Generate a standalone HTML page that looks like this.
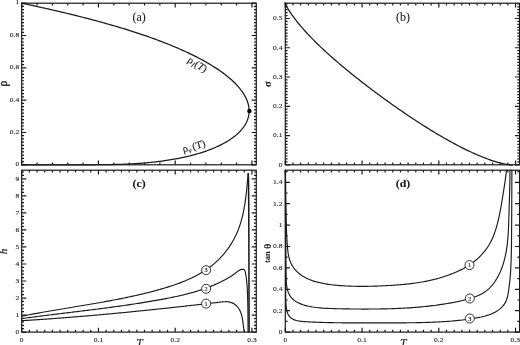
<!DOCTYPE html>
<html><head><meta charset="utf-8"><title>figure</title>
<style>
html,body{margin:0;padding:0;background:#fff;}
body{width:520px;height:345px;overflow:hidden;}
svg{display:block;filter:blur(0.45px);font-family:"Liberation Serif",serif;fill:#1a1a1a;}
</style></head><body>
<svg width="520" height="345" viewBox="0 0 520 345">
<rect width="520" height="345" fill="#fff"/>
<rect x="21.70" y="3.20" width="234.60" height="161.60" fill="none" stroke="#1a1a1a" stroke-width="1.20"/>
<path d="M21.70 164.80v-4.30M21.70 3.20v4.30M37.05 164.80v-2.30M37.05 3.20v2.30M52.40 164.80v-2.30M52.40 3.20v2.30M67.75 164.80v-2.30M67.75 3.20v2.30M83.10 164.80v-2.30M83.10 3.20v2.30M98.45 164.80v-4.30M98.45 3.20v4.30M113.80 164.80v-2.30M113.80 3.20v2.30M129.15 164.80v-2.30M129.15 3.20v2.30M144.50 164.80v-2.30M144.50 3.20v2.30M159.85 164.80v-2.30M159.85 3.20v2.30M175.20 164.80v-4.30M175.20 3.20v4.30M190.55 164.80v-2.30M190.55 3.20v2.30M205.90 164.80v-2.30M205.90 3.20v2.30M221.25 164.80v-2.30M221.25 3.20v2.30M236.60 164.80v-2.30M236.60 3.20v2.30M251.95 164.80v-4.30M251.95 3.20v4.30" stroke="#1a1a1a" stroke-width="1.20" fill="none"/>
<path d="M21.70 164.80h4.60M256.30 164.80h-4.60M21.70 161.57h2.30M256.30 161.57h-2.30M21.70 158.34h2.30M256.30 158.34h-2.30M21.70 155.10h2.30M256.30 155.10h-2.30M21.70 151.87h2.30M256.30 151.87h-2.30M21.70 148.64h2.30M256.30 148.64h-2.30M21.70 145.41h2.30M256.30 145.41h-2.30M21.70 142.18h2.30M256.30 142.18h-2.30M21.70 138.94h2.30M256.30 138.94h-2.30M21.70 135.71h2.30M256.30 135.71h-2.30M21.70 132.48h4.60M256.30 132.48h-4.60M21.70 129.25h2.30M256.30 129.25h-2.30M21.70 126.02h2.30M256.30 126.02h-2.30M21.70 122.78h2.30M256.30 122.78h-2.30M21.70 119.55h2.30M256.30 119.55h-2.30M21.70 116.32h2.30M256.30 116.32h-2.30M21.70 113.09h2.30M256.30 113.09h-2.30M21.70 109.86h2.30M256.30 109.86h-2.30M21.70 106.62h2.30M256.30 106.62h-2.30M21.70 103.39h2.30M256.30 103.39h-2.30M21.70 100.16h4.60M256.30 100.16h-4.60M21.70 96.93h2.30M256.30 96.93h-2.30M21.70 93.70h2.30M256.30 93.70h-2.30M21.70 90.46h2.30M256.30 90.46h-2.30M21.70 87.23h2.30M256.30 87.23h-2.30M21.70 84.00h2.30M256.30 84.00h-2.30M21.70 80.77h2.30M256.30 80.77h-2.30M21.70 77.54h2.30M256.30 77.54h-2.30M21.70 74.30h2.30M256.30 74.30h-2.30M21.70 71.07h2.30M256.30 71.07h-2.30M21.70 67.84h4.60M256.30 67.84h-4.60M21.70 64.61h2.30M256.30 64.61h-2.30M21.70 61.38h2.30M256.30 61.38h-2.30M21.70 58.14h2.30M256.30 58.14h-2.30M21.70 54.91h2.30M256.30 54.91h-2.30M21.70 51.68h2.30M256.30 51.68h-2.30M21.70 48.45h2.30M256.30 48.45h-2.30M21.70 45.22h2.30M256.30 45.22h-2.30M21.70 41.98h2.30M256.30 41.98h-2.30M21.70 38.75h2.30M256.30 38.75h-2.30M21.70 35.52h4.60M256.30 35.52h-4.60M21.70 32.29h2.30M256.30 32.29h-2.30M21.70 29.06h2.30M256.30 29.06h-2.30M21.70 25.82h2.30M256.30 25.82h-2.30M21.70 22.59h2.30M256.30 22.59h-2.30M21.70 19.36h2.30M256.30 19.36h-2.30M21.70 16.13h2.30M256.30 16.13h-2.30M21.70 12.90h2.30M256.30 12.90h-2.30M21.70 9.66h2.30M256.30 9.66h-2.30M21.70 6.43h2.30M256.30 6.43h-2.30M21.70 3.20h4.60M256.30 3.20h-4.60" stroke="#1a1a1a" stroke-width="1.20" fill="none"/>
<text transform="translate(19.20,166.25) scale(1.060,1)" font-size="7.10" text-anchor="end" stroke="#1a1a1a" stroke-width="0.10" >0</text>
<text transform="translate(19.20,133.93) scale(1.060,1)" font-size="7.10" text-anchor="end" stroke="#1a1a1a" stroke-width="0.10" >0.2</text>
<text transform="translate(19.20,101.61) scale(1.060,1)" font-size="7.10" text-anchor="end" stroke="#1a1a1a" stroke-width="0.10" >0.4</text>
<text transform="translate(19.20,69.29) scale(1.060,1)" font-size="7.10" text-anchor="end" stroke="#1a1a1a" stroke-width="0.10" >0.6</text>
<text transform="translate(19.20,36.97) scale(1.060,1)" font-size="7.10" text-anchor="end" stroke="#1a1a1a" stroke-width="0.10" >0.8</text>
<text transform="translate(19.20,4.35) scale(1.060,1)" font-size="7.10" text-anchor="end" stroke="#1a1a1a" stroke-width="0.10" >1</text>
<path d="M21.70 3.20 L22.08 3.28 L22.47 3.36 L23.23 3.52 L24.00 3.69 L25.15 3.93 L26.30 4.18 L27.84 4.50 L29.38 4.83 L30.91 5.16 L32.39 5.48 L33.91 5.81 L35.44 6.15 L36.96 6.48 L38.49 6.82 L40.01 7.15 L41.53 7.49 L43.06 7.83 L44.58 8.17 L46.11 8.51 L47.63 8.86 L49.15 9.20 L50.68 9.55 L52.20 9.90 L53.73 10.25 L55.25 10.60 L56.77 10.96 L58.30 11.31 L59.82 11.67 L61.34 12.03 L62.87 12.39 L64.39 12.75 L65.92 13.12 L67.44 13.49 L68.96 13.85 L70.49 14.22 L72.01 14.60 L73.54 14.97 L75.06 15.35 L76.58 15.73 L78.11 16.11 L79.63 16.49 L81.16 16.88 L82.68 17.26 L84.20 17.65 L85.73 18.05 L87.25 18.44 L88.78 18.84 L90.30 19.23 L91.82 19.64 L93.35 20.04 L94.87 20.45 L96.40 20.86 L97.92 21.27 L99.44 21.68 L100.97 22.10 L102.49 22.52 L104.02 22.94 L105.54 23.37 L107.06 23.80 L108.59 24.23 L110.11 24.66 L111.64 25.10 L113.16 25.54 L114.68 25.98 L116.21 26.43 L117.73 26.88 L119.26 27.34 L120.78 27.79 L122.30 28.25 L123.83 28.72 L125.35 29.19 L126.88 29.66 L128.40 30.13 L129.92 30.61 L131.45 31.10 L132.97 31.58 L134.49 32.07 L136.02 32.57 L137.54 33.07 L139.07 33.57 L140.59 34.08 L142.11 34.59 L143.64 35.11 L145.16 35.63 L146.69 36.16 L148.21 36.69 L149.73 37.23 L151.26 37.77 L152.78 38.32 L154.31 38.87 L155.83 39.43 L157.35 39.99 L158.88 40.56 L160.40 41.13 L161.93 41.71 L163.45 42.30 L164.97 42.89 L166.50 43.49 L168.02 44.10 L169.55 44.71 L171.07 45.33 L172.59 45.96 L174.12 46.59 L175.64 47.23 L177.17 47.88 L178.69 48.54 L180.21 49.21 L181.74 49.88 L183.26 50.56 L184.79 51.25 L186.31 51.95 L187.83 52.67 L189.36 53.39 L190.88 54.12 L192.41 54.86 L193.93 55.61 L195.45 56.38 L196.98 57.15 L198.50 57.94 L200.03 58.74 L201.55 59.56 L203.07 60.39 L204.60 61.23 L206.12 62.09 L207.64 62.97 L209.17 63.86 L210.69 64.77 L212.22 65.70 L213.74 66.66 L215.26 67.63 L216.79 68.62 L218.31 69.64 L219.84 70.69 L221.36 71.77 L222.88 72.87 L224.41 74.01 L225.93 75.19 L227.46 76.40 L228.98 77.66 L230.50 78.97 L232.03 80.33 L233.55 81.75 L235.08 83.25 L236.60 84.82 L236.76 84.99 L236.92 85.16 L237.07 85.33 L237.23 85.51 L237.39 85.68 L237.55 85.85 L237.71 86.03 L237.87 86.21 L238.02 86.38 L238.18 86.56 L238.34 86.75 L238.50 86.93 L238.66 87.11 L238.82 87.30 L238.97 87.48 L239.13 87.67 L239.29 87.86 L239.45 88.05 L239.61 88.24 L239.77 88.43 L239.92 88.63 L240.08 88.83 L240.24 89.03 L240.40 89.23 L240.56 89.43 L240.72 89.63 L240.87 89.84 L241.03 90.05 L241.19 90.26 L241.35 90.47 L241.51 90.68 L241.67 90.90 L241.82 91.12 L241.98 91.34 L242.14 91.56 L242.30 91.79 L242.46 92.01 L242.62 92.25 L242.77 92.48 L242.93 92.72 L243.09 92.96 L243.25 93.20 L243.41 93.44 L243.57 93.69 L243.72 93.95 L243.88 94.20 L244.04 94.46 L244.20 94.73 L244.36 94.99 L244.52 95.27 L244.67 95.54 L244.83 95.83 L244.99 96.11 L245.15 96.41 L245.31 96.70 L245.47 97.01 L245.62 97.32 L245.78 97.64 L245.94 97.96 L246.10 98.30 L246.26 98.64 L246.42 98.99 L246.57 99.35 L246.73 99.73 L246.89 100.11 L247.05 100.51 L247.21 100.93 L247.37 101.36 L247.52 101.81 L247.68 102.28 L247.84 102.78 L248.00 103.31 L248.16 103.89 L248.32 104.50 L248.47 105.19 L248.63 105.96 L248.79 106.88 L248.95 108.07 L249.11 110.74 L249.11 110.93 L249.11 110.93 L249.11 111.13 L248.95 113.77 L248.79 114.93 L248.63 115.81 L248.47 116.56 L248.32 117.21 L248.16 117.80 L248.00 118.34 L247.84 118.84 L247.68 119.31 L247.52 119.76 L247.37 120.18 L247.21 120.58 L247.05 120.96 L246.89 121.33 L246.73 121.69 L246.57 122.03 L246.42 122.36 L246.26 122.68 L246.10 123.00 L245.94 123.30 L245.78 123.59 L245.62 123.88 L245.47 124.16 L245.31 124.44 L245.15 124.71 L244.99 124.97 L244.83 125.22 L244.67 125.48 L244.52 125.72 L244.36 125.97 L244.20 126.20 L244.04 126.44 L243.88 126.67 L243.72 126.89 L243.57 127.11 L243.41 127.33 L243.25 127.55 L243.09 127.76 L242.93 127.97 L242.77 128.18 L242.62 128.38 L242.46 128.58 L242.30 128.78 L242.14 128.97 L241.98 129.16 L241.82 129.35 L241.67 129.54 L241.51 129.73 L241.35 129.91 L241.19 130.09 L241.03 130.27 L240.87 130.45 L240.72 130.62 L240.56 130.80 L240.40 130.97 L240.24 131.14 L240.08 131.30 L239.92 131.47 L239.77 131.63 L239.61 131.80 L239.45 131.96 L239.29 132.12 L239.13 132.28 L238.97 132.43 L238.82 132.59 L238.66 132.74 L238.50 132.89 L238.34 133.05 L238.18 133.20 L238.02 133.34 L237.87 133.49 L237.71 133.64 L237.55 133.78 L237.39 133.93 L237.23 134.07 L237.07 134.21 L236.92 134.35 L236.76 134.49 L236.60 134.63 L235.08 135.90 L233.55 137.09 L232.03 138.21 L230.50 139.27 L228.98 140.27 L227.46 141.22 L225.93 142.12 L224.41 142.98 L222.88 143.81 L221.36 144.60 L219.84 145.36 L218.31 146.09 L216.79 146.79 L215.26 147.46 L213.74 148.11 L212.22 148.74 L210.69 149.34 L209.17 149.93 L207.64 150.49 L206.12 151.04 L204.60 151.56 L203.07 152.07 L201.55 152.57 L200.03 153.04 L198.50 153.51 L196.98 153.95 L195.45 154.39 L193.93 154.81 L192.41 155.22 L190.88 155.61 L189.36 155.99 L187.83 156.36 L186.31 156.72 L184.79 157.07 L183.26 157.40 L181.74 157.73 L180.21 158.04 L178.69 158.35 L177.17 158.64 L175.64 158.93 L174.12 159.20 L172.59 159.47 L171.07 159.73 L169.55 159.98 L168.02 160.22 L166.50 160.45 L164.97 160.67 L163.45 160.89 L161.93 161.10 L160.40 161.30 L158.88 161.49 L157.35 161.68 L155.83 161.85 L154.31 162.03 L152.78 162.19 L151.26 162.35 L149.73 162.50 L148.21 162.64 L146.69 162.78 L145.16 162.92 L143.64 163.04 L142.11 163.16 L140.59 163.28 L139.07 163.39 L137.54 163.49 L136.02 163.59 L134.49 163.68 L132.97 163.77 L131.45 163.86 L129.92 163.93 L128.40 164.01 L126.88 164.08 L125.35 164.14 L123.83 164.20 L122.30 164.26 L120.78 164.31 L119.26 164.36 L117.73 164.41 L116.21 164.45 L114.68 164.49 L113.16 164.52 L111.64 164.56 L110.11 164.59 L108.59 164.61 L107.06 164.64 L105.54 164.66 L104.02 164.68 L102.49 164.70 L100.97 164.71 L99.44 164.73 L97.92 164.74 L96.40 164.75 L94.87 164.76 L93.35 164.77 L91.82 164.77 L90.30 164.78 L88.78 164.78 L87.25 164.79 L85.73 164.79 L84.20 164.79 L82.68 164.79 L81.16 164.80 L79.63 164.80 L78.11 164.80 L76.58 164.80 L75.06 164.80 L73.54 164.80 L72.01 164.80 L70.49 164.80 L68.96 164.80 L67.44 164.80 L65.92 164.80 L64.39 164.80 L62.87 164.80 L61.34 164.80 L59.82 164.80 L58.30 164.80 L56.77 164.80 L55.25 164.80 L53.73 164.80 L52.20 164.80 L50.68 164.80 L49.15 164.80 L47.63 164.80 L46.11 164.80 L44.58 164.80 L43.06 164.80 L41.53 164.80 L40.01 164.80 L38.49 164.80 L36.96 164.80 L35.44 164.80 L33.91 164.80 L32.39 164.80 L30.91 164.80 L29.38 164.80 L27.84 164.80 L26.30 164.80 L25.15 164.80 L24.00 164.80 L23.23 164.80 L22.47 164.80 L22.08 164.80 L21.70 164.80" fill="none" stroke="#1a1a1a" stroke-width="1.25" stroke-linejoin="round" stroke-linecap="round" />
<circle cx="249.41" cy="110.93" r="2.2" fill="#000"/>
<text transform="translate(139.10,20.60) scale(1.040,1)" font-size="11.50" text-anchor="middle" stroke="#1a1a1a" stroke-width="0.08" >(a)</text>
<text font-size="10.3" stroke="#1a1a1a" stroke-width="0.15" transform="translate(187,61.5) rotate(33)">ρ<tspan font-size="7" dy="2" dx="0.6" font-style="italic">l</tspan><tspan dy="-2" dx="0.5">(</tspan><tspan font-style="italic">T</tspan>)</text>
<text font-size="10.3" stroke="#1a1a1a" stroke-width="0.15" transform="translate(183.6,152.6) rotate(-15.5)">ρ<tspan font-size="7" dy="2">v</tspan><tspan dy="-2" dx="1.5">(T)</tspan></text>
<text font-size="11.6" stroke="#1a1a1a" stroke-width="0.35" transform="translate(6.7,83.5) rotate(-90)" text-anchor="middle">ρ</text>
<rect x="285.30" y="3.20" width="234.30" height="161.60" fill="none" stroke="#1a1a1a" stroke-width="1.20"/>
<path d="M285.30 164.80v-4.30M285.30 3.20v4.30M292.98 164.80v-2.30M292.98 3.20v2.30M300.65 164.80v-2.30M300.65 3.20v2.30M308.32 164.80v-2.30M308.32 3.20v2.30M316.00 164.80v-2.30M316.00 3.20v2.30M323.68 164.80v-2.30M323.68 3.20v2.30M331.35 164.80v-2.30M331.35 3.20v2.30M339.03 164.80v-2.30M339.03 3.20v2.30M346.70 164.80v-2.30M346.70 3.20v2.30M354.38 164.80v-2.30M354.38 3.20v2.30M362.05 164.80v-4.30M362.05 3.20v4.30M369.73 164.80v-2.30M369.73 3.20v2.30M377.40 164.80v-2.30M377.40 3.20v2.30M385.08 164.80v-2.30M385.08 3.20v2.30M392.75 164.80v-2.30M392.75 3.20v2.30M400.43 164.80v-2.30M400.43 3.20v2.30M408.10 164.80v-2.30M408.10 3.20v2.30M415.78 164.80v-2.30M415.78 3.20v2.30M423.45 164.80v-2.30M423.45 3.20v2.30M431.12 164.80v-2.30M431.12 3.20v2.30M438.80 164.80v-4.30M438.80 3.20v4.30M446.48 164.80v-2.30M446.48 3.20v2.30M454.15 164.80v-2.30M454.15 3.20v2.30M461.83 164.80v-2.30M461.83 3.20v2.30M469.50 164.80v-2.30M469.50 3.20v2.30M477.18 164.80v-2.30M477.18 3.20v2.30M484.85 164.80v-2.30M484.85 3.20v2.30M492.53 164.80v-2.30M492.53 3.20v2.30M500.20 164.80v-2.30M500.20 3.20v2.30M507.88 164.80v-2.30M507.88 3.20v2.30M515.55 164.80v-4.30M515.55 3.20v4.30" stroke="#1a1a1a" stroke-width="1.20" fill="none"/>
<path d="M285.30 164.80h4.60M519.60 164.80h-4.60M285.30 161.87h2.30M519.60 161.87h-2.30M285.30 158.95h2.30M519.60 158.95h-2.30M285.30 156.02h2.30M519.60 156.02h-2.30M285.30 153.10h2.30M519.60 153.10h-2.30M285.30 150.17h2.30M519.60 150.17h-2.30M285.30 147.24h2.30M519.60 147.24h-2.30M285.30 144.32h2.30M519.60 144.32h-2.30M285.30 141.39h2.30M519.60 141.39h-2.30M285.30 138.47h2.30M519.60 138.47h-2.30M285.30 135.54h4.60M519.60 135.54h-4.60M285.30 132.61h2.30M519.60 132.61h-2.30M285.30 129.69h2.30M519.60 129.69h-2.30M285.30 126.76h2.30M519.60 126.76h-2.30M285.30 123.84h2.30M519.60 123.84h-2.30M285.30 120.91h2.30M519.60 120.91h-2.30M285.30 117.98h2.30M519.60 117.98h-2.30M285.30 115.06h2.30M519.60 115.06h-2.30M285.30 112.13h2.30M519.60 112.13h-2.30M285.30 109.21h2.30M519.60 109.21h-2.30M285.30 106.28h4.60M519.60 106.28h-4.60M285.30 103.35h2.30M519.60 103.35h-2.30M285.30 100.43h2.30M519.60 100.43h-2.30M285.30 97.50h2.30M519.60 97.50h-2.30M285.30 94.58h2.30M519.60 94.58h-2.30M285.30 91.65h2.30M519.60 91.65h-2.30M285.30 88.72h2.30M519.60 88.72h-2.30M285.30 85.80h2.30M519.60 85.80h-2.30M285.30 82.87h2.30M519.60 82.87h-2.30M285.30 79.95h2.30M519.60 79.95h-2.30M285.30 77.02h4.60M519.60 77.02h-4.60M285.30 74.09h2.30M519.60 74.09h-2.30M285.30 71.17h2.30M519.60 71.17h-2.30M285.30 68.24h2.30M519.60 68.24h-2.30M285.30 65.32h2.30M519.60 65.32h-2.30M285.30 62.39h2.30M519.60 62.39h-2.30M285.30 59.46h2.30M519.60 59.46h-2.30M285.30 56.54h2.30M519.60 56.54h-2.30M285.30 53.61h2.30M519.60 53.61h-2.30M285.30 50.69h2.30M519.60 50.69h-2.30M285.30 47.76h4.60M519.60 47.76h-4.60M285.30 44.83h2.30M519.60 44.83h-2.30M285.30 41.91h2.30M519.60 41.91h-2.30M285.30 38.98h2.30M519.60 38.98h-2.30M285.30 36.06h2.30M519.60 36.06h-2.30M285.30 33.13h2.30M519.60 33.13h-2.30M285.30 30.20h2.30M519.60 30.20h-2.30M285.30 27.28h2.30M519.60 27.28h-2.30M285.30 24.35h2.30M519.60 24.35h-2.30M285.30 21.43h2.30M519.60 21.43h-2.30M285.30 18.50h4.60M519.60 18.50h-4.60M285.30 15.57h2.30M519.60 15.57h-2.30M285.30 12.65h2.30M519.60 12.65h-2.30M285.30 9.72h2.30M519.60 9.72h-2.30M285.30 6.80h2.30M519.60 6.80h-2.30M285.30 3.87h2.30M519.60 3.87h-2.30" stroke="#1a1a1a" stroke-width="1.20" fill="none"/>
<text transform="translate(282.50,166.60) scale(1.060,1)" font-size="7.10" text-anchor="end" stroke="#1a1a1a" stroke-width="0.10" >0</text>
<text transform="translate(282.50,137.34) scale(1.060,1)" font-size="7.10" text-anchor="end" stroke="#1a1a1a" stroke-width="0.10" >0.1</text>
<text transform="translate(282.50,108.08) scale(1.060,1)" font-size="7.10" text-anchor="end" stroke="#1a1a1a" stroke-width="0.10" >0.2</text>
<text transform="translate(282.50,78.82) scale(1.060,1)" font-size="7.10" text-anchor="end" stroke="#1a1a1a" stroke-width="0.10" >0.3</text>
<text transform="translate(282.50,49.56) scale(1.060,1)" font-size="7.10" text-anchor="end" stroke="#1a1a1a" stroke-width="0.10" >0.4</text>
<text transform="translate(282.50,20.30) scale(1.060,1)" font-size="7.10" text-anchor="end" stroke="#1a1a1a" stroke-width="0.10" >0.5</text>
<path d="M285.00 2.60 L285.38 3.70 L285.77 4.58 L286.54 6.15 L287.30 7.58 L288.45 9.56 L289.61 11.40 L291.14 13.71 L292.68 15.90 L294.21 17.99 L295.69 19.93 L297.21 21.86 L298.74 23.74 L300.26 25.56 L301.79 27.35 L303.31 29.09 L304.83 30.79 L306.36 32.47 L307.88 34.11 L309.41 35.73 L310.93 37.32 L312.45 38.88 L313.98 40.43 L315.50 41.95 L317.03 43.45 L318.55 44.93 L320.07 46.40 L321.60 47.85 L323.12 49.28 L324.64 50.70 L326.17 52.10 L327.69 53.49 L329.22 54.87 L330.74 56.23 L332.26 57.59 L333.79 58.93 L335.31 60.26 L336.84 61.57 L338.36 62.88 L339.88 64.18 L341.41 65.47 L342.93 66.75 L344.46 68.02 L345.98 69.28 L347.50 70.54 L349.03 71.78 L350.55 73.02 L352.08 74.25 L353.60 75.48 L355.12 76.69 L356.65 77.90 L358.17 79.11 L359.70 80.30 L361.22 81.49 L362.74 82.68 L364.27 83.86 L365.79 85.03 L367.32 86.19 L368.84 87.36 L370.36 88.51 L371.89 89.66 L373.41 90.81 L374.94 91.94 L376.46 93.08 L377.98 94.21 L379.51 95.33 L381.03 96.45 L382.56 97.56 L384.08 98.67 L385.60 99.78 L387.13 100.87 L388.65 101.97 L390.18 103.06 L391.70 104.14 L393.22 105.22 L394.75 106.29 L396.27 107.36 L397.79 108.42 L399.32 109.48 L400.84 110.53 L402.37 111.58 L403.89 112.63 L405.41 113.66 L406.94 114.70 L408.46 115.72 L409.99 116.74 L411.51 117.76 L413.03 118.77 L414.56 119.78 L416.08 120.77 L417.61 121.77 L419.13 122.75 L420.65 123.74 L422.18 124.71 L423.70 125.68 L425.23 126.64 L426.75 127.60 L428.27 128.55 L429.80 129.50 L431.32 130.43 L432.85 131.36 L434.37 132.29 L435.89 133.20 L437.42 134.11 L438.94 135.02 L440.47 135.91 L441.99 136.80 L443.51 137.68 L445.04 138.55 L446.56 139.41 L448.09 140.27 L449.61 141.12 L451.13 141.96 L452.66 142.79 L454.18 143.61 L455.71 144.42 L457.23 145.23 L458.75 146.02 L460.28 146.81 L461.80 147.58 L463.33 148.35 L464.85 149.10 L466.37 149.85 L467.90 150.58 L469.42 151.30 L470.94 152.01 L472.47 152.71 L473.99 153.40 L475.52 154.08 L477.04 154.74 L478.56 155.39 L480.09 156.03 L481.61 156.65 L483.14 157.26 L484.66 157.86 L486.18 158.44 L487.71 159.01 L489.23 159.55 L490.76 160.09 L492.28 160.60 L493.80 161.10 L495.33 161.58 L496.85 162.03 L498.38 162.47 L499.90 162.88 L500.06 162.93 L500.22 162.97 L500.37 163.01 L500.53 163.05 L500.69 163.09 L500.85 163.13 L501.01 163.17 L501.17 163.21 L501.32 163.25 L501.48 163.29 L501.64 163.33 L501.80 163.37 L501.96 163.41 L502.12 163.44 L502.27 163.48 L502.43 163.52 L502.59 163.56 L502.75 163.59 L502.91 163.63 L503.07 163.67 L503.22 163.70 L503.38 163.74 L503.54 163.77 L503.70 163.81 L503.86 163.84 L504.02 163.88 L504.17 163.91 L504.33 163.95 L504.49 163.98 L504.65 164.01 L504.81 164.05 L504.97 164.08 L505.12 164.11 L505.28 164.14 L505.44 164.17 L505.60 164.21 L505.76 164.24 L505.92 164.27 L506.07 164.30 L506.23 164.33 L506.39 164.36 L506.55 164.39 L506.71 164.41 L506.87 164.44 L507.02 164.47 L507.18 164.50 L507.34 164.53 L507.50 164.55 L507.66 164.58 L507.82 164.60 L507.97 164.63 L508.13 164.65 L508.29 164.68 L508.45 164.70 L508.61 164.73 L508.77 164.75 L508.92 164.77 L509.08 164.79 L509.24 164.82 L509.40 164.84 L509.56 164.86 L509.72 164.88 L509.87 164.90 L510.03 164.92 L510.19 164.93 L510.35 164.95 L510.51 164.97 L510.67 164.98 L510.82 165.00 L510.98 165.01 L511.14 165.03 L511.30 165.04 L511.46 165.05 L511.62 165.06 L511.77 165.07 L511.93 165.08 L512.09 165.09 L512.25 165.10 L512.41 165.10 L512.41 165.10" fill="none" stroke="#1a1a1a" stroke-width="1.25" stroke-linejoin="round" stroke-linecap="round" />
<text transform="translate(403.00,20.60) scale(1.040,1)" font-size="11.50" text-anchor="middle" stroke="#1a1a1a" stroke-width="0.08" >(b)</text>
<text font-size="11.3" font-weight="bold" transform="translate(271,84.2) rotate(-90)" text-anchor="middle">σ</text>
<rect x="21.70" y="170.20" width="234.60" height="161.90" fill="none" stroke="#1a1a1a" stroke-width="1.20"/>
<path d="M21.70 332.10v-4.30M21.70 170.20v4.30M29.38 332.10v-2.30M29.38 170.20v2.30M37.05 332.10v-2.30M37.05 170.20v2.30M44.72 332.10v-2.30M44.72 170.20v2.30M52.40 332.10v-2.30M52.40 170.20v2.30M60.08 332.10v-2.30M60.08 170.20v2.30M67.75 332.10v-2.30M67.75 170.20v2.30M75.43 332.10v-2.30M75.43 170.20v2.30M83.10 332.10v-2.30M83.10 170.20v2.30M90.78 332.10v-2.30M90.78 170.20v2.30M98.45 332.10v-4.30M98.45 170.20v4.30M106.12 332.10v-2.30M106.12 170.20v2.30M113.80 332.10v-2.30M113.80 170.20v2.30M121.48 332.10v-2.30M121.48 170.20v2.30M129.15 332.10v-2.30M129.15 170.20v2.30M136.82 332.10v-2.30M136.82 170.20v2.30M144.50 332.10v-2.30M144.50 170.20v2.30M152.18 332.10v-2.30M152.18 170.20v2.30M159.85 332.10v-2.30M159.85 170.20v2.30M167.52 332.10v-2.30M167.52 170.20v2.30M175.20 332.10v-4.30M175.20 170.20v4.30M182.87 332.10v-2.30M182.87 170.20v2.30M190.55 332.10v-2.30M190.55 170.20v2.30M198.22 332.10v-2.30M198.22 170.20v2.30M205.90 332.10v-2.30M205.90 170.20v2.30M213.57 332.10v-2.30M213.57 170.20v2.30M221.25 332.10v-2.30M221.25 170.20v2.30M228.93 332.10v-2.30M228.93 170.20v2.30M236.60 332.10v-2.30M236.60 170.20v2.30M244.27 332.10v-2.30M244.27 170.20v2.30M251.95 332.10v-4.30M251.95 170.20v4.30" stroke="#1a1a1a" stroke-width="1.20" fill="none"/>
<path d="M21.70 332.10h4.60M256.30 332.10h-4.60M21.70 328.69h2.30M256.30 328.69h-2.30M21.70 325.29h2.30M256.30 325.29h-2.30M21.70 321.88h2.30M256.30 321.88h-2.30M21.70 318.48h2.30M256.30 318.48h-2.30M21.70 315.07h4.60M256.30 315.07h-4.60M21.70 311.66h2.30M256.30 311.66h-2.30M21.70 308.26h2.30M256.30 308.26h-2.30M21.70 304.85h2.30M256.30 304.85h-2.30M21.70 301.45h2.30M256.30 301.45h-2.30M21.70 298.04h4.60M256.30 298.04h-4.60M21.70 294.63h2.30M256.30 294.63h-2.30M21.70 291.23h2.30M256.30 291.23h-2.30M21.70 287.82h2.30M256.30 287.82h-2.30M21.70 284.42h2.30M256.30 284.42h-2.30M21.70 281.01h4.60M256.30 281.01h-4.60M21.70 277.60h2.30M256.30 277.60h-2.30M21.70 274.20h2.30M256.30 274.20h-2.30M21.70 270.79h2.30M256.30 270.79h-2.30M21.70 267.39h2.30M256.30 267.39h-2.30M21.70 263.98h4.60M256.30 263.98h-4.60M21.70 260.57h2.30M256.30 260.57h-2.30M21.70 257.17h2.30M256.30 257.17h-2.30M21.70 253.76h2.30M256.30 253.76h-2.30M21.70 250.36h2.30M256.30 250.36h-2.30M21.70 246.95h4.60M256.30 246.95h-4.60M21.70 243.54h2.30M256.30 243.54h-2.30M21.70 240.14h2.30M256.30 240.14h-2.30M21.70 236.73h2.30M256.30 236.73h-2.30M21.70 233.33h2.30M256.30 233.33h-2.30M21.70 229.92h4.60M256.30 229.92h-4.60M21.70 226.51h2.30M256.30 226.51h-2.30M21.70 223.11h2.30M256.30 223.11h-2.30M21.70 219.70h2.30M256.30 219.70h-2.30M21.70 216.30h2.30M256.30 216.30h-2.30M21.70 212.89h4.60M256.30 212.89h-4.60M21.70 209.48h2.30M256.30 209.48h-2.30M21.70 206.08h2.30M256.30 206.08h-2.30M21.70 202.67h2.30M256.30 202.67h-2.30M21.70 199.27h2.30M256.30 199.27h-2.30M21.70 195.86h4.60M256.30 195.86h-4.60M21.70 192.45h2.30M256.30 192.45h-2.30M21.70 189.05h2.30M256.30 189.05h-2.30M21.70 185.64h2.30M256.30 185.64h-2.30M21.70 182.24h2.30M256.30 182.24h-2.30M21.70 178.83h4.60M256.30 178.83h-4.60M21.70 175.42h2.30M256.30 175.42h-2.30M21.70 172.02h2.30M256.30 172.02h-2.30" stroke="#1a1a1a" stroke-width="1.20" fill="none"/>
<text transform="translate(19.20,333.90) scale(1.060,1)" font-size="7.10" text-anchor="end" stroke="#1a1a1a" stroke-width="0.10" >0</text>
<text transform="translate(19.20,316.87) scale(1.060,1)" font-size="7.10" text-anchor="end" stroke="#1a1a1a" stroke-width="0.10" >1</text>
<text transform="translate(19.20,299.84) scale(1.060,1)" font-size="7.10" text-anchor="end" stroke="#1a1a1a" stroke-width="0.10" >2</text>
<text transform="translate(19.20,282.81) scale(1.060,1)" font-size="7.10" text-anchor="end" stroke="#1a1a1a" stroke-width="0.10" >3</text>
<text transform="translate(19.20,265.78) scale(1.060,1)" font-size="7.10" text-anchor="end" stroke="#1a1a1a" stroke-width="0.10" >4</text>
<text transform="translate(19.20,248.75) scale(1.060,1)" font-size="7.10" text-anchor="end" stroke="#1a1a1a" stroke-width="0.10" >5</text>
<text transform="translate(19.20,231.72) scale(1.060,1)" font-size="7.10" text-anchor="end" stroke="#1a1a1a" stroke-width="0.10" >6</text>
<text transform="translate(19.20,214.69) scale(1.060,1)" font-size="7.10" text-anchor="end" stroke="#1a1a1a" stroke-width="0.10" >7</text>
<text transform="translate(19.20,197.66) scale(1.060,1)" font-size="7.10" text-anchor="end" stroke="#1a1a1a" stroke-width="0.10" >8</text>
<text transform="translate(19.20,180.63) scale(1.060,1)" font-size="7.10" text-anchor="end" stroke="#1a1a1a" stroke-width="0.10" >9</text>
<text transform="translate(21.70,341.60) scale(1.060,1)" font-size="7.10" text-anchor="middle" stroke="#1a1a1a" stroke-width="0.10" >0</text>
<text transform="translate(98.45,341.60) scale(1.060,1)" font-size="7.10" text-anchor="middle" stroke="#1a1a1a" stroke-width="0.10" >0.1</text>
<text transform="translate(175.20,341.60) scale(1.060,1)" font-size="7.10" text-anchor="middle" stroke="#1a1a1a" stroke-width="0.10" >0.2</text>
<text transform="translate(251.95,341.60) scale(1.060,1)" font-size="7.10" text-anchor="middle" stroke="#1a1a1a" stroke-width="0.10" >0.3</text>
<text transform="translate(139.10,187.20) scale(1.080,1)" font-size="11.00" text-anchor="middle" stroke="#1a1a1a" stroke-width="0.10" font-weight="bold">(c)</text>
<text font-size="11" font-style="italic" stroke="#1a1a1a" stroke-width="0.25" transform="translate(7.0,251.4) rotate(-90)" text-anchor="middle">h</text>
<text transform="translate(139.60,346.50) scale(1.000,1)" font-size="11.80" text-anchor="middle" stroke="#1a1a1a" stroke-width="0.10" font-style="italic">T</text>
<path d="M21.70 316.20 L23.19 315.90 L24.69 315.61 L26.18 315.32 L27.67 315.03 L29.17 314.75 L30.66 314.46 L32.15 314.18 L33.64 313.91 L35.13 313.63 L36.63 313.36 L38.12 313.09 L39.61 312.82 L41.10 312.55 L42.59 312.29 L44.08 312.03 L45.57 311.77 L47.06 311.51 L48.55 311.25 L50.04 310.99 L51.53 310.74 L53.02 310.48 L54.51 310.23 L56.00 309.98 L57.49 309.73 L58.97 309.48 L60.46 309.23 L61.95 308.98 L63.44 308.74 L64.92 308.49 L66.41 308.24 L67.90 308.00 L69.38 307.75 L70.87 307.51 L72.36 307.26 L73.84 307.01 L75.33 306.77 L76.81 306.52 L78.30 306.28 L79.78 306.03 L81.27 305.78 L82.75 305.53 L84.24 305.29 L85.72 305.04 L87.20 304.79 L88.69 304.54 L90.17 304.28 L91.65 304.03 L93.14 303.78 L94.62 303.52 L96.10 303.26 L97.58 303.00 L99.06 302.74 L100.55 302.48 L102.03 302.22 L103.51 301.95 L104.99 301.68 L106.47 301.41 L107.95 301.14 L109.43 300.87 L110.91 300.59 L112.39 300.31 L113.87 300.03 L115.34 299.75 L116.82 299.46 L118.30 299.17 L119.78 298.88 L121.26 298.58 L122.73 298.28 L124.21 297.98 L125.69 297.67 L127.16 297.36 L128.64 297.05 L130.12 296.74 L131.59 296.42 L133.07 296.09 L134.54 295.77 L136.02 295.44 L137.49 295.10 L138.97 294.76 L140.44 294.42 L141.91 294.07 L143.39 293.72 L144.86 293.36 L146.33 293.00 L147.81 292.63 L149.28 292.26 L150.75 291.89 L152.22 291.51 L153.69 291.12 L155.16 290.73 L156.63 290.33 L158.10 289.92 L159.56 289.51 L161.03 289.09 L162.49 288.67 L163.95 288.24 L165.41 287.79 L166.86 287.35 L168.32 286.89 L169.77 286.42 L171.22 285.95 L172.66 285.46 L174.11 284.97 L175.55 284.47 L176.98 283.96 L178.42 283.43 L179.84 282.90 L181.27 282.36 L182.69 281.80 L184.11 281.23 L185.52 280.66 L186.92 280.06 L188.32 279.46 L189.71 278.84 L191.10 278.21 L192.47 277.56 L193.83 276.90 L195.19 276.22 L196.53 275.53 L197.87 274.82 L199.19 274.09 L200.50 273.34 L201.80 272.58 L203.08 271.80 L204.35 271.00 L205.61 270.18 L206.85 269.33 L208.07 268.47 L209.28 267.59 L210.47 266.69 L211.64 265.77 L212.80 264.83 L213.94 263.87 L215.07 262.89 L216.18 261.89 L217.26 260.88 L218.34 259.84 L219.39 258.79 L220.42 257.72 L221.44 256.64 L222.44 255.53 L223.42 254.41 L224.37 253.28 L225.31 252.12 L226.23 250.95 L227.13 249.77 L228.01 248.57 L228.87 247.35 L229.71 246.12 L230.53 244.88 L231.32 243.61 L232.10 242.34 L232.85 241.05 L233.58 239.75 L234.29 238.43 L234.97 237.10 L235.64 235.75 L236.28 234.40 L236.90 233.03 L237.49 231.65 L238.06 230.25 L238.61 228.85 L239.13 227.43 L239.63 226.00 L240.11 224.56 L240.57 223.11 L241.01 221.66 L241.42 220.19 L241.82 218.71 L242.20 217.23 L242.56 215.74 L242.91 214.25 L243.24 212.75 L243.55 211.24 L243.85 209.73 L244.13 208.22 L244.40 206.70 L244.65 205.18 L244.90 203.66 L245.13 202.13 L245.35 200.61 L245.56 199.08 L245.76 197.56 L245.95 196.03 L246.14 194.51 L246.31 192.98 L246.48 191.46 L246.64 189.94 L246.80 188.43 L246.95 186.92 L247.10 185.41 L247.24 183.91 L247.38 182.42 L247.52 180.93 L247.66 179.45 L247.79 177.97 L247.93 176.51 L248.06 175.05 L248.20 173.60 L248.40 176.00" fill="none" stroke="#1a1a1a" stroke-width="1.15" stroke-linejoin="round" stroke-linecap="round" />
<path d="M248.25 173.80 L248.50 180.00 L248.70 200.00 L248.90 250.00 L249.10 332.00" fill="none" stroke="#1a1a1a" stroke-width="1.55" stroke-linejoin="round" stroke-linecap="round" />
<path d="M21.70 318.60 L23.16 318.40 L24.63 318.20 L26.09 318.00 L27.55 317.80 L29.02 317.61 L30.48 317.41 L31.94 317.22 L33.40 317.03 L34.87 316.84 L36.33 316.65 L37.79 316.46 L39.25 316.27 L40.72 316.08 L42.18 315.90 L43.64 315.71 L45.10 315.53 L46.56 315.34 L48.02 315.16 L49.49 314.98 L50.95 314.79 L52.41 314.61 L53.87 314.43 L55.33 314.25 L56.79 314.07 L58.25 313.89 L59.71 313.71 L61.17 313.53 L62.63 313.36 L64.09 313.18 L65.55 313.00 L67.01 312.82 L68.47 312.64 L69.93 312.46 L71.39 312.29 L72.85 312.11 L74.31 311.93 L75.77 311.75 L77.23 311.57 L78.69 311.39 L80.15 311.21 L81.61 311.03 L83.07 310.86 L84.53 310.67 L85.98 310.49 L87.44 310.31 L88.90 310.13 L90.36 309.95 L91.82 309.77 L93.28 309.58 L94.73 309.40 L96.19 309.21 L97.65 309.03 L99.11 308.84 L100.57 308.65 L102.02 308.46 L103.48 308.27 L104.94 308.08 L106.40 307.89 L107.85 307.70 L109.31 307.50 L110.77 307.31 L112.22 307.11 L113.68 306.92 L115.14 306.72 L116.59 306.52 L118.05 306.31 L119.51 306.11 L120.96 305.91 L122.42 305.70 L123.88 305.49 L125.33 305.28 L126.79 305.07 L128.24 304.86 L129.70 304.64 L131.16 304.43 L132.61 304.21 L134.07 303.99 L135.52 303.76 L136.98 303.54 L138.43 303.31 L139.89 303.08 L141.35 302.85 L142.80 302.62 L144.26 302.39 L145.71 302.15 L147.17 301.91 L148.62 301.67 L150.08 301.42 L151.53 301.17 L152.98 300.92 L154.44 300.67 L155.89 300.42 L157.35 300.16 L158.80 299.90 L160.26 299.64 L161.71 299.37 L163.17 299.10 L164.62 298.83 L166.07 298.56 L167.52 298.28 L168.98 297.99 L170.43 297.71 L171.88 297.41 L173.32 297.12 L174.77 296.81 L176.21 296.50 L177.66 296.19 L179.10 295.87 L180.54 295.54 L181.98 295.20 L183.41 294.86 L184.84 294.51 L186.27 294.16 L187.70 293.79 L189.12 293.42 L190.55 293.04 L191.96 292.65 L193.38 292.25 L194.79 291.84 L196.20 291.42 L197.60 291.00 L199.00 290.56 L200.39 290.11 L201.79 289.65 L203.17 289.18 L204.56 288.70 L205.93 288.20 L207.31 287.70 L208.67 287.18 L210.04 286.65 L211.39 286.11 L212.75 285.55 L214.09 284.98 L215.43 284.40 L216.77 283.80 L218.10 283.19 L219.42 282.57 L220.73 281.93 L222.04 281.27 L223.35 280.60 L224.64 279.91 L225.93 279.21 L227.22 278.49 L228.49 277.76 L229.76 277.00 L231.01 276.23 L232.25 275.43 L233.47 274.59 L234.67 273.73 L235.85 272.82 L237.02 271.91 L238.22 271.02 L239.48 270.23 L240.85 269.60 L242.32 269.21 L243.71 269.42 L244.71 270.33 L245.22 271.67 L245.52 273.16 L245.79 274.65 L246.03 276.13 L246.25 277.61 L246.44 279.09 L246.62 280.56 L246.77 282.03 L246.91 283.49 L247.03 284.95 L247.14 286.42 L247.23 287.88 L247.31 289.34 L247.38 290.80 L247.44 292.26 L247.50 293.72 L247.55 295.18 L247.60 296.64 L247.64 298.11 L247.68 299.58 L247.72 301.05 L247.75 302.52 L247.78 303.99 L247.81 305.47 L247.84 306.94 L247.87 308.42 L247.89 309.90 L247.91 311.37 L247.93 312.85 L247.95 314.33 L247.96 315.81 L247.98 317.29 L247.99 318.76 L248.00 320.24 L248.01 321.71 L248.02 323.19 L248.03 324.66 L248.03 326.13 L248.04 327.60 L248.04 329.07 L248.05 330.54 L248.05 332.00" fill="none" stroke="#1a1a1a" stroke-width="1.15" stroke-linejoin="round" stroke-linecap="round" />
<path d="M21.70 320.70 L22.94 320.62 L24.17 320.55 L25.41 320.47 L26.65 320.39 L27.88 320.32 L29.12 320.24 L30.35 320.16 L31.58 320.08 L32.82 320.00 L34.05 319.92 L35.28 319.84 L36.52 319.75 L37.75 319.67 L38.98 319.59 L40.21 319.50 L41.44 319.42 L42.67 319.34 L43.90 319.25 L45.13 319.16 L46.36 319.08 L47.59 318.99 L48.82 318.90 L50.05 318.81 L51.28 318.73 L52.51 318.64 L53.74 318.55 L54.96 318.46 L56.19 318.37 L57.42 318.27 L58.64 318.18 L59.87 318.09 L61.10 318.00 L62.32 317.90 L63.55 317.81 L64.77 317.71 L66.00 317.62 L67.22 317.52 L68.45 317.43 L69.67 317.33 L70.90 317.23 L72.12 317.13 L73.34 317.04 L74.57 316.94 L75.79 316.84 L77.01 316.74 L78.24 316.64 L79.46 316.54 L80.68 316.43 L81.90 316.33 L83.12 316.23 L84.35 316.13 L85.57 316.02 L86.79 315.92 L88.01 315.81 L89.23 315.71 L90.45 315.60 L91.67 315.50 L92.89 315.39 L94.11 315.28 L95.34 315.18 L96.56 315.07 L97.78 314.96 L99.00 314.85 L100.22 314.74 L101.44 314.63 L102.66 314.52 L103.88 314.41 L105.09 314.30 L106.31 314.19 L107.53 314.08 L108.75 313.97 L109.97 313.85 L111.19 313.74 L112.41 313.63 L113.63 313.51 L114.85 313.40 L116.07 313.28 L117.29 313.17 L118.51 313.05 L119.73 312.93 L120.94 312.82 L122.16 312.70 L123.38 312.58 L124.60 312.46 L125.82 312.35 L127.04 312.23 L128.26 312.11 L129.48 311.99 L130.70 311.87 L131.91 311.75 L133.13 311.63 L134.35 311.50 L135.57 311.38 L136.79 311.26 L138.01 311.14 L139.23 311.01 L140.45 310.89 L141.67 310.77 L142.89 310.64 L144.11 310.52 L145.33 310.39 L146.55 310.27 L147.77 310.14 L148.99 310.02 L150.21 309.89 L151.43 309.76 L152.65 309.64 L153.87 309.51 L155.09 309.38 L156.31 309.25 L157.53 309.12 L158.75 308.99 L159.97 308.87 L161.19 308.74 L162.42 308.61 L163.64 308.48 L164.86 308.34 L166.08 308.21 L167.30 308.08 L168.53 307.95 L169.75 307.82 L170.97 307.69 L172.19 307.55 L173.42 307.42 L174.64 307.29 L175.86 307.15 L177.09 307.02 L178.31 306.88 L179.54 306.75 L180.76 306.61 L181.99 306.48 L183.21 306.34 L184.44 306.21 L185.66 306.07 L186.89 305.93 L188.11 305.80 L189.34 305.66 L190.57 305.52 L191.79 305.38 L193.02 305.25 L194.25 305.11 L195.48 304.97 L196.70 304.83 L197.93 304.69 L199.16 304.55 L200.39 304.41 L201.62 304.27 L202.85 304.13 L204.08 303.99 L205.31 303.85 L206.54 303.71 L207.77 303.57 L209.00 303.42 L210.23 303.28 L211.47 303.14 L212.70 303.00 L213.93 302.85 L215.17 302.71 L216.40 302.57 L217.63 302.42 L218.87 302.28 L220.10 302.14 L221.34 301.99 L222.57 301.86 L223.80 301.76 L225.03 301.70 L226.24 301.69 L227.45 301.75 L228.65 301.89 L229.83 302.13 L230.98 302.45 L232.11 302.87 L233.19 303.37 L234.23 303.98 L235.21 304.68 L236.14 305.46 L237.01 306.32 L237.81 307.24 L238.55 308.23 L239.21 309.27 L239.81 310.35 L240.34 311.47 L240.80 312.62 L241.21 313.80 L241.57 315.00 L241.89 316.21 L242.16 317.44 L242.40 318.66 L242.60 319.89 L242.79 321.12 L242.96 322.34 L243.11 323.56 L243.26 324.78 L243.41 326.00 L243.57 327.21 L243.74 328.42 L243.93 329.62 L244.15 330.81 L244.40 332.00" fill="none" stroke="#1a1a1a" stroke-width="1.15" stroke-linejoin="round" stroke-linecap="round" />
<circle cx="206.10" cy="270.20" r="4.5" fill="#fff" stroke="#1a1a1a" stroke-width="0.9"/>
<text transform="translate(206.10,272.30) scale(1.000,1)" font-size="6.20" text-anchor="middle" stroke="#1a1a1a" stroke-width="0.15" >3</text>
<circle cx="206.10" cy="288.80" r="4.5" fill="#fff" stroke="#1a1a1a" stroke-width="0.9"/>
<text transform="translate(206.10,290.90) scale(1.000,1)" font-size="6.20" text-anchor="middle" stroke="#1a1a1a" stroke-width="0.15" >2</text>
<circle cx="206.10" cy="303.60" r="4.5" fill="#fff" stroke="#1a1a1a" stroke-width="0.9"/>
<text transform="translate(206.10,305.70) scale(1.000,1)" font-size="6.20" text-anchor="middle" stroke="#1a1a1a" stroke-width="0.15" >1</text>
<rect x="285.30" y="170.20" width="234.30" height="161.90" fill="none" stroke="#1a1a1a" stroke-width="1.20"/>
<path d="M285.30 332.10v-4.30M285.30 170.20v4.30M292.98 332.10v-2.30M292.98 170.20v2.30M300.65 332.10v-2.30M300.65 170.20v2.30M308.32 332.10v-2.30M308.32 170.20v2.30M316.00 332.10v-2.30M316.00 170.20v2.30M323.68 332.10v-2.30M323.68 170.20v2.30M331.35 332.10v-2.30M331.35 170.20v2.30M339.03 332.10v-2.30M339.03 170.20v2.30M346.70 332.10v-2.30M346.70 170.20v2.30M354.38 332.10v-2.30M354.38 170.20v2.30M362.05 332.10v-4.30M362.05 170.20v4.30M369.73 332.10v-2.30M369.73 170.20v2.30M377.40 332.10v-2.30M377.40 170.20v2.30M385.08 332.10v-2.30M385.08 170.20v2.30M392.75 332.10v-2.30M392.75 170.20v2.30M400.43 332.10v-2.30M400.43 170.20v2.30M408.10 332.10v-2.30M408.10 170.20v2.30M415.78 332.10v-2.30M415.78 170.20v2.30M423.45 332.10v-2.30M423.45 170.20v2.30M431.12 332.10v-2.30M431.12 170.20v2.30M438.80 332.10v-4.30M438.80 170.20v4.30M446.48 332.10v-2.30M446.48 170.20v2.30M454.15 332.10v-2.30M454.15 170.20v2.30M461.83 332.10v-2.30M461.83 170.20v2.30M469.50 332.10v-2.30M469.50 170.20v2.30M477.18 332.10v-2.30M477.18 170.20v2.30M484.85 332.10v-2.30M484.85 170.20v2.30M492.53 332.10v-2.30M492.53 170.20v2.30M500.20 332.10v-2.30M500.20 170.20v2.30M507.88 332.10v-2.30M507.88 170.20v2.30M515.55 332.10v-4.30M515.55 170.20v4.30" stroke="#1a1a1a" stroke-width="1.20" fill="none"/>
<path d="M285.30 332.10h4.60M519.60 332.10h-4.60M285.30 321.40h2.30M519.60 321.40h-2.30M285.30 310.70h4.60M519.60 310.70h-4.60M285.30 300.00h2.30M519.60 300.00h-2.30M285.30 289.30h4.60M519.60 289.30h-4.60M285.30 278.60h2.30M519.60 278.60h-2.30M285.30 267.90h4.60M519.60 267.90h-4.60M285.30 257.20h2.30M519.60 257.20h-2.30M285.30 246.50h4.60M519.60 246.50h-4.60M285.30 235.80h2.30M519.60 235.80h-2.30M285.30 225.10h4.60M519.60 225.10h-4.60M285.30 214.40h2.30M519.60 214.40h-2.30M285.30 203.70h4.60M519.60 203.70h-4.60M285.30 193.00h2.30M519.60 193.00h-2.30M285.30 182.30h4.60M519.60 182.30h-4.60M285.30 171.60h2.30M519.60 171.60h-2.30" stroke="#1a1a1a" stroke-width="1.20" fill="none"/>
<text transform="translate(282.50,333.90) scale(1.060,1)" font-size="7.10" text-anchor="end" stroke="#1a1a1a" stroke-width="0.10" >0</text>
<text transform="translate(282.50,312.50) scale(1.060,1)" font-size="7.10" text-anchor="end" stroke="#1a1a1a" stroke-width="0.10" >0.2</text>
<text transform="translate(282.50,291.10) scale(1.060,1)" font-size="7.10" text-anchor="end" stroke="#1a1a1a" stroke-width="0.10" >0.4</text>
<text transform="translate(282.50,269.70) scale(1.060,1)" font-size="7.10" text-anchor="end" stroke="#1a1a1a" stroke-width="0.10" >0.6</text>
<text transform="translate(282.50,248.30) scale(1.060,1)" font-size="7.10" text-anchor="end" stroke="#1a1a1a" stroke-width="0.10" >0.8</text>
<text transform="translate(282.50,226.90) scale(1.060,1)" font-size="7.10" text-anchor="end" stroke="#1a1a1a" stroke-width="0.10" >1</text>
<text transform="translate(282.50,205.50) scale(1.060,1)" font-size="7.10" text-anchor="end" stroke="#1a1a1a" stroke-width="0.10" >1.2</text>
<text transform="translate(282.50,184.10) scale(1.060,1)" font-size="7.10" text-anchor="end" stroke="#1a1a1a" stroke-width="0.10" >1.4</text>
<text transform="translate(285.30,341.60) scale(1.060,1)" font-size="7.10" text-anchor="middle" stroke="#1a1a1a" stroke-width="0.10" >0</text>
<text transform="translate(362.05,341.60) scale(1.060,1)" font-size="7.10" text-anchor="middle" stroke="#1a1a1a" stroke-width="0.10" >0.1</text>
<text transform="translate(438.80,341.60) scale(1.060,1)" font-size="7.10" text-anchor="middle" stroke="#1a1a1a" stroke-width="0.10" >0.2</text>
<text transform="translate(515.25,341.60) scale(1.060,1)" font-size="7.10" text-anchor="middle" stroke="#1a1a1a" stroke-width="0.10" >0.3</text>
<text transform="translate(403.00,187.20) scale(1.080,1)" font-size="11.00" text-anchor="middle" stroke="#1a1a1a" stroke-width="0.10" font-weight="bold">(d)</text>
<text font-size="8.6" font-weight="bold" transform="translate(270.3,263.1) rotate(-90)" text-anchor="start">tan</text>
<text font-size="11.4" font-weight="bold" transform="translate(270.6,246.2) rotate(-90) scale(0.9,1)" text-anchor="middle">θ</text>
<text transform="translate(403.40,346.50) scale(1.000,1)" font-size="11.80" text-anchor="middle" stroke="#1a1a1a" stroke-width="0.10" font-style="italic">T</text>
<path d="M285.50 170.20 L285.51 171.82 L285.53 173.44 L285.54 175.07 L285.56 176.69 L285.58 178.32 L285.59 179.94 L285.61 181.57 L285.62 183.20 L285.64 184.82 L285.66 186.45 L285.68 188.08 L285.70 189.71 L285.72 191.34 L285.74 192.97 L285.76 194.60 L285.78 196.23 L285.80 197.85 L285.82 199.48 L285.85 201.11 L285.87 202.74 L285.90 204.36 L285.92 205.99 L285.95 207.61 L285.98 209.24 L286.01 210.86 L286.04 212.48 L286.07 214.10 L286.11 215.72 L286.14 217.34 L286.18 218.96 L286.21 220.57 L286.25 222.19 L286.30 223.81 L286.34 225.42 L286.39 227.04 L286.44 228.66 L286.50 230.27 L286.57 231.89 L286.63 233.52 L286.71 235.14 L286.79 236.77 L286.88 238.40 L286.97 240.04 L287.08 241.67 L287.19 243.32 L287.31 244.96 L287.43 246.62 L287.58 248.27 L287.74 249.93 L287.93 251.58 L288.15 253.22 L288.42 254.84 L288.73 256.44 L289.11 258.02 L289.55 259.57 L290.07 261.09 L290.67 262.57 L291.35 264.01 L292.11 265.40 L292.96 266.75 L293.87 268.05 L294.86 269.30 L295.91 270.50 L297.02 271.65 L298.20 272.75 L299.42 273.79 L300.70 274.77 L302.03 275.69 L303.40 276.56 L304.80 277.36 L306.25 278.11 L307.72 278.80 L309.22 279.45 L310.75 280.04 L312.30 280.60 L313.87 281.11 L315.45 281.58 L317.04 282.02 L318.63 282.43 L320.23 282.81 L321.83 283.16 L323.43 283.48 L325.03 283.78 L326.64 284.06 L328.25 284.32 L329.85 284.55 L331.46 284.77 L333.07 284.96 L334.68 285.14 L336.30 285.30 L337.91 285.44 L339.53 285.57 L341.14 285.69 L342.76 285.80 L344.38 285.89 L346.00 285.97 L347.62 286.05 L349.24 286.11 L350.86 286.17 L352.48 286.22 L354.11 286.26 L355.73 286.29 L357.35 286.31 L358.98 286.33 L360.60 286.34 L362.23 286.34 L363.86 286.34 L365.48 286.33 L367.11 286.31 L368.74 286.28 L370.36 286.25 L371.99 286.21 L373.62 286.17 L375.25 286.12 L376.87 286.07 L378.50 286.01 L380.13 285.95 L381.75 285.88 L383.38 285.80 L385.01 285.72 L386.63 285.64 L388.26 285.55 L389.88 285.46 L391.51 285.37 L393.13 285.26 L394.75 285.15 L396.37 285.04 L397.99 284.92 L399.61 284.79 L401.23 284.65 L402.85 284.51 L404.47 284.35 L406.08 284.19 L407.70 284.02 L409.31 283.84 L410.92 283.65 L412.53 283.44 L414.14 283.23 L415.75 283.01 L417.36 282.77 L418.96 282.52 L420.57 282.26 L422.17 281.99 L423.77 281.70 L425.36 281.40 L426.96 281.08 L428.55 280.75 L430.14 280.40 L431.73 280.04 L433.31 279.67 L434.90 279.28 L436.47 278.87 L438.04 278.44 L439.61 278.00 L441.17 277.54 L442.73 277.07 L444.28 276.57 L445.83 276.06 L447.36 275.53 L448.89 274.98 L450.42 274.41 L451.93 273.83 L453.44 273.22 L454.94 272.59 L456.43 271.95 L457.91 271.28 L459.38 270.59 L460.83 269.88 L462.28 269.15 L463.71 268.39 L465.12 267.60 L466.52 266.79 L467.90 265.95 L469.27 265.08 L470.61 264.18 L471.94 263.25 L473.24 262.28 L474.52 261.29 L475.77 260.26 L477.00 259.20 L478.21 258.11 L479.39 256.98 L480.53 255.83 L481.65 254.64 L482.74 253.43 L483.80 252.19 L484.82 250.92 L485.81 249.63 L486.77 248.32 L487.69 246.97 L488.57 245.61 L489.41 244.22 L490.21 242.81 L490.97 241.38 L491.69 239.93 L492.38 238.46 L493.02 236.98 L493.63 235.47 L494.21 233.96 L494.76 232.43 L495.28 230.89 L495.78 229.34 L496.25 227.79 L496.70 226.22 L497.13 224.65 L497.55 223.08 L497.94 221.50 L498.32 219.92 L498.69 218.33 L499.04 216.75 L499.38 215.16 L499.71 213.56 L500.02 211.97 L500.33 210.37 L500.63 208.77 L500.92 207.17 L501.20 205.56 L501.47 203.96 L501.74 202.36 L502.01 200.75 L502.28 199.15 L502.54 197.54 L502.80 195.94 L503.06 194.33 L503.31 192.73 L503.57 191.12 L503.82 189.52 L504.07 187.92 L504.32 186.31 L504.56 184.71 L504.80 183.10 L505.04 181.49 L505.27 179.88 L505.49 178.28 L505.71 176.66 L505.92 175.05 L506.12 173.44 L506.31 171.82 L506.50 170.20" fill="none" stroke="#1a1a1a" stroke-width="1.15" stroke-linejoin="round" stroke-linecap="round" />
<path d="M285.40 170.20 L285.41 172.12 L285.41 174.04 L285.42 175.96 L285.42 177.88 L285.43 179.79 L285.43 181.70 L285.43 183.61 L285.44 185.52 L285.44 187.43 L285.45 189.33 L285.45 191.23 L285.46 193.13 L285.46 195.03 L285.47 196.93 L285.47 198.83 L285.48 200.73 L285.48 202.62 L285.49 204.52 L285.49 206.42 L285.50 208.31 L285.51 210.20 L285.51 212.10 L285.52 213.99 L285.53 215.89 L285.53 217.78 L285.54 219.68 L285.55 221.57 L285.56 223.47 L285.57 225.36 L285.58 227.26 L285.59 229.16 L285.60 231.06 L285.61 232.96 L285.63 234.86 L285.64 236.76 L285.65 238.67 L285.67 240.57 L285.68 242.48 L285.70 244.39 L285.72 246.30 L285.73 248.22 L285.75 250.13 L285.77 252.05 L285.79 253.97 L285.81 255.90 L285.83 257.82 L285.86 259.75 L285.88 261.69 L285.91 263.62 L285.93 265.56 L285.96 267.50 L285.99 269.45 L286.02 271.40 L286.05 273.35 L286.08 275.31 L286.12 277.27 L286.17 279.22 L286.25 281.17 L286.37 283.10 L286.56 284.99 L286.82 286.86 L287.17 288.68 L287.62 290.45 L288.20 292.17 L288.90 293.82 L289.75 295.39 L290.75 296.87 L291.90 298.25 L293.20 299.50 L294.63 300.63 L296.17 301.65 L297.81 302.56 L299.53 303.38 L301.32 304.11 L303.16 304.75 L305.03 305.33 L306.92 305.83 L308.81 306.28 L310.71 306.67 L312.61 307.01 L314.50 307.30 L316.40 307.55 L318.30 307.77 L320.20 307.94 L322.10 308.09 L324.00 308.22 L325.91 308.32 L327.81 308.40 L329.71 308.47 L331.61 308.54 L333.52 308.60 L335.42 308.65 L337.32 308.70 L339.23 308.75 L341.13 308.79 L343.03 308.83 L344.93 308.87 L346.84 308.90 L348.74 308.93 L350.65 308.96 L352.55 308.99 L354.45 309.01 L356.36 309.02 L358.26 309.04 L360.17 309.05 L362.07 309.05 L363.98 309.06 L365.88 309.06 L367.79 309.06 L369.69 309.05 L371.60 309.04 L373.50 309.03 L375.41 309.01 L377.32 308.99 L379.22 308.97 L381.13 308.94 L383.03 308.90 L384.94 308.86 L386.84 308.82 L388.75 308.77 L390.65 308.71 L392.56 308.65 L394.46 308.59 L396.37 308.51 L398.27 308.43 L400.17 308.35 L402.08 308.25 L403.98 308.15 L405.88 308.05 L407.78 307.93 L409.68 307.81 L411.58 307.68 L413.48 307.54 L415.38 307.40 L417.28 307.24 L419.17 307.08 L421.07 306.91 L422.96 306.73 L424.86 306.54 L426.75 306.34 L428.64 306.13 L430.53 305.92 L432.42 305.69 L434.31 305.45 L436.19 305.20 L438.08 304.94 L439.96 304.67 L441.85 304.39 L443.73 304.10 L445.61 303.80 L447.49 303.48 L449.37 303.16 L451.24 302.82 L453.11 302.47 L454.99 302.11 L456.86 301.73 L458.73 301.34 L460.59 300.94 L462.45 300.51 L464.31 300.06 L466.16 299.58 L468.00 299.07 L469.83 298.53 L471.66 297.95 L473.47 297.33 L475.27 296.67 L477.06 295.97 L478.83 295.21 L480.57 294.39 L482.26 293.50 L483.90 292.53 L485.47 291.48 L486.98 290.34 L488.41 289.12 L489.78 287.82 L491.09 286.46 L492.33 285.03 L493.51 283.54 L494.63 282.00 L495.69 280.41 L496.69 278.79 L497.64 277.12 L498.54 275.43 L499.39 273.71 L500.18 271.98 L500.93 270.23 L501.63 268.47 L502.28 266.69 L502.89 264.90 L503.46 263.10 L503.99 261.29 L504.49 259.46 L504.94 257.63 L505.36 255.79 L505.75 253.94 L506.10 252.07 L506.42 250.21 L506.72 248.33 L506.99 246.45 L507.23 244.56 L507.45 242.66 L507.64 240.76 L507.82 238.86 L507.98 236.95 L508.11 235.04 L508.24 233.12 L508.35 231.21 L508.44 229.29 L508.53 227.37 L508.61 225.45 L508.68 223.53 L508.74 221.61 L508.80 219.69 L508.86 217.77 L508.91 215.86 L508.97 213.95 L509.03 212.04 L509.08 210.13 L509.14 208.23 L509.20 206.33 L509.26 204.43 L509.32 202.53 L509.38 200.63 L509.43 198.74 L509.49 196.84 L509.54 194.95 L509.60 193.05 L509.65 191.16 L509.70 189.26 L509.74 187.36 L509.79 185.46 L509.83 183.56 L509.87 181.66 L509.90 179.76 L509.93 177.85 L509.95 175.95 L509.97 174.03 L509.99 172.12 L510.00 170.20" fill="none" stroke="#1a1a1a" stroke-width="1.15" stroke-linejoin="round" stroke-linecap="round" />
<path d="M285.40 170.20 L285.40 172.30 L285.40 174.41 L285.40 176.51 L285.41 178.61 L285.41 180.72 L285.41 182.82 L285.41 184.92 L285.42 187.03 L285.42 189.13 L285.42 191.23 L285.43 193.34 L285.43 195.44 L285.43 197.54 L285.44 199.65 L285.44 201.75 L285.45 203.85 L285.45 205.96 L285.46 208.06 L285.46 210.17 L285.47 212.27 L285.47 214.37 L285.48 216.48 L285.48 218.58 L285.49 220.68 L285.49 222.79 L285.50 224.89 L285.51 226.99 L285.51 229.10 L285.52 231.20 L285.52 233.31 L285.53 235.41 L285.53 237.51 L285.54 239.62 L285.55 241.72 L285.55 243.82 L285.56 245.93 L285.56 248.03 L285.57 250.13 L285.58 252.24 L285.58 254.34 L285.59 256.44 L285.59 258.55 L285.60 260.65 L285.60 262.75 L285.61 264.86 L285.61 266.96 L285.62 269.06 L285.62 271.16 L285.62 273.27 L285.63 275.37 L285.63 277.47 L285.63 279.57 L285.64 281.68 L285.64 283.78 L285.64 285.88 L285.65 287.98 L285.65 290.08 L285.65 292.19 L285.67 294.29 L285.70 296.40 L285.75 298.51 L285.83 300.62 L285.95 302.74 L286.11 304.86 L286.33 306.99 L286.60 309.13 L286.98 311.25 L287.57 313.26 L288.46 315.10 L289.64 316.71 L291.06 318.03 L292.66 319.07 L294.42 319.87 L296.32 320.47 L298.32 320.89 L300.39 321.19 L302.52 321.40 L304.67 321.56 L306.83 321.70 L308.97 321.83 L311.11 321.95 L313.25 322.06 L315.38 322.16 L317.51 322.25 L319.63 322.33 L321.75 322.41 L323.87 322.48 L325.98 322.54 L328.09 322.59 L330.20 322.64 L332.30 322.68 L334.40 322.71 L336.50 322.74 L338.59 322.77 L340.69 322.79 L342.78 322.81 L344.88 322.82 L346.97 322.83 L349.06 322.84 L351.15 322.84 L353.24 322.85 L355.33 322.85 L357.42 322.85 L359.51 322.85 L361.61 322.85 L363.70 322.85 L365.80 322.85 L367.89 322.86 L369.99 322.86 L372.09 322.86 L374.19 322.87 L376.30 322.87 L378.40 322.88 L380.51 322.88 L382.61 322.88 L384.72 322.89 L386.83 322.89 L388.93 322.89 L391.04 322.89 L393.15 322.88 L395.26 322.88 L397.37 322.87 L399.48 322.86 L401.59 322.85 L403.70 322.84 L405.81 322.82 L407.92 322.80 L410.03 322.77 L412.14 322.74 L414.25 322.71 L416.35 322.67 L418.46 322.63 L420.57 322.58 L422.67 322.53 L424.78 322.48 L426.88 322.41 L428.98 322.34 L431.08 322.27 L433.18 322.19 L435.28 322.10 L437.37 322.00 L439.47 321.89 L441.56 321.78 L443.66 321.65 L445.75 321.52 L447.84 321.37 L449.93 321.21 L452.03 321.04 L454.12 320.85 L456.20 320.65 L458.29 320.44 L460.38 320.21 L462.47 319.97 L464.56 319.71 L466.64 319.44 L468.73 319.14 L470.82 318.84 L472.90 318.51 L474.99 318.16 L477.07 317.79 L479.15 317.40 L481.23 316.98 L483.29 316.50 L485.33 315.98 L487.35 315.38 L489.34 314.71 L491.29 313.96 L493.21 313.11 L495.08 312.15 L496.90 311.08 L498.66 309.89 L500.33 308.58 L501.87 307.15 L503.28 305.60 L504.51 303.94 L505.55 302.16 L506.39 300.28 L507.05 298.31 L507.58 296.27 L508.01 294.19 L508.37 292.09 L508.69 289.99 L508.99 287.89 L509.27 285.79 L509.52 283.69 L509.75 281.59 L509.95 279.50 L510.14 277.40 L510.31 275.31 L510.46 273.21 L510.60 271.12 L510.72 269.03 L510.83 266.93 L510.92 264.84 L511.01 262.74 L511.09 260.64 L511.15 258.55 L511.22 256.45 L511.27 254.35 L511.32 252.25 L511.37 250.15 L511.41 248.04 L511.44 245.94 L511.47 243.84 L511.50 241.73 L511.53 239.63 L511.55 237.52 L511.57 235.41 L511.59 233.31 L511.60 231.20 L511.61 229.10 L511.63 226.99 L511.64 224.89 L511.65 222.78 L511.66 220.68 L511.67 218.57 L511.69 216.47 L511.70 214.37 L511.71 212.26 L511.72 210.16 L511.73 208.06 L511.74 205.95 L511.75 203.85 L511.76 201.75 L511.77 199.65 L511.78 197.54 L511.79 195.44 L511.80 193.34 L511.81 191.24 L511.82 189.13 L511.83 187.03 L511.83 184.93 L511.84 182.82 L511.85 180.72 L511.86 178.62 L511.87 176.51 L511.88 174.41 L511.89 172.31 L511.90 170.20" fill="none" stroke="#1a1a1a" stroke-width="1.15" stroke-linejoin="round" stroke-linecap="round" />
<circle cx="469.50" cy="265.10" r="4.5" fill="#fff" stroke="#1a1a1a" stroke-width="0.9"/>
<text transform="translate(469.50,267.20) scale(1.000,1)" font-size="6.20" text-anchor="middle" stroke="#1a1a1a" stroke-width="0.15" >1</text>
<circle cx="469.80" cy="298.50" r="4.5" fill="#fff" stroke="#1a1a1a" stroke-width="0.9"/>
<text transform="translate(469.80,300.60) scale(1.000,1)" font-size="6.20" text-anchor="middle" stroke="#1a1a1a" stroke-width="0.15" >2</text>
<circle cx="469.80" cy="318.50" r="4.5" fill="#fff" stroke="#1a1a1a" stroke-width="0.9"/>
<text transform="translate(469.80,320.60) scale(1.000,1)" font-size="6.20" text-anchor="middle" stroke="#1a1a1a" stroke-width="0.15" >3</text>
</svg>
</body></html>
